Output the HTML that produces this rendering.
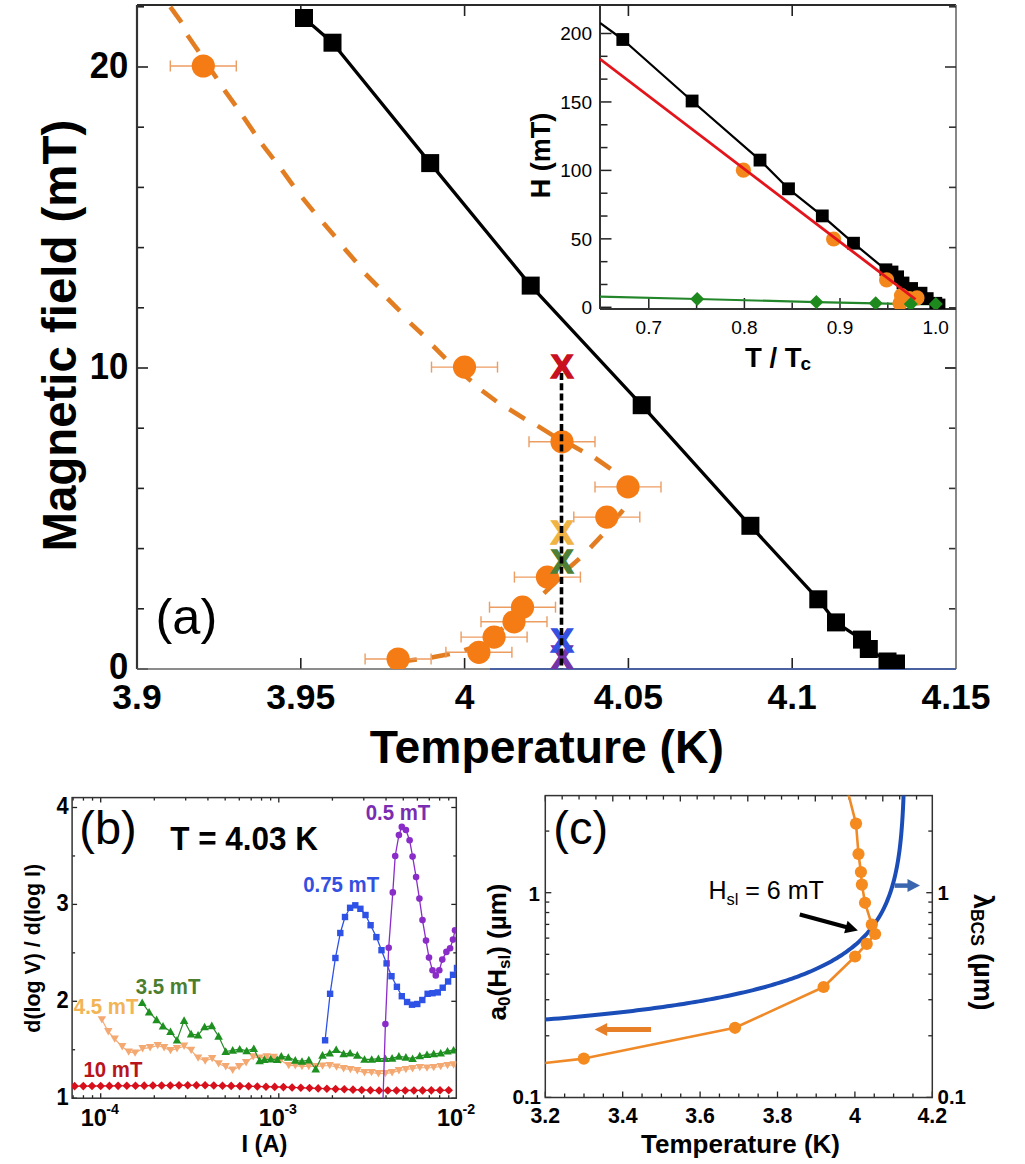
<!DOCTYPE html><html><head><meta charset="utf-8"><style>html,body{margin:0;padding:0;background:#fff;}</style></head><body><svg width="1025" height="1164" viewBox="0 0 1025 1164" style="display:block">
<rect width="1025" height="1164" fill="#fff"/>
<defs><clipPath id="ca"><rect x="137" y="5" width="819" height="664"/></clipPath><clipPath id="ci"><rect x="600" y="5" width="356" height="304"/></clipPath><clipPath id="cb"><rect x="72" y="797.6" width="384.3" height="300.6"/></clipPath><clipPath id="cc"><rect x="545.3" y="795.6" width="387" height="301.9"/></clipPath></defs>
<line x1="137.00" y1="669.00" x2="148.00" y2="669.00" stroke="#222" stroke-width="1.6" />
<line x1="956.00" y1="669.00" x2="945.00" y2="669.00" stroke="#333" stroke-width="1.6" />
<line x1="137.00" y1="608.80" x2="144.00" y2="608.80" stroke="#222" stroke-width="1.6" />
<line x1="956.00" y1="608.80" x2="949.00" y2="608.80" stroke="#333" stroke-width="1.6" />
<line x1="137.00" y1="548.60" x2="144.00" y2="548.60" stroke="#222" stroke-width="1.6" />
<line x1="956.00" y1="548.60" x2="949.00" y2="548.60" stroke="#333" stroke-width="1.6" />
<line x1="137.00" y1="488.40" x2="144.00" y2="488.40" stroke="#222" stroke-width="1.6" />
<line x1="956.00" y1="488.40" x2="949.00" y2="488.40" stroke="#333" stroke-width="1.6" />
<line x1="137.00" y1="428.20" x2="144.00" y2="428.20" stroke="#222" stroke-width="1.6" />
<line x1="956.00" y1="428.20" x2="949.00" y2="428.20" stroke="#333" stroke-width="1.6" />
<line x1="137.00" y1="368.00" x2="148.00" y2="368.00" stroke="#222" stroke-width="1.6" />
<line x1="956.00" y1="368.00" x2="945.00" y2="368.00" stroke="#333" stroke-width="1.6" />
<line x1="137.00" y1="307.80" x2="144.00" y2="307.80" stroke="#222" stroke-width="1.6" />
<line x1="956.00" y1="307.80" x2="949.00" y2="307.80" stroke="#333" stroke-width="1.6" />
<line x1="137.00" y1="247.60" x2="144.00" y2="247.60" stroke="#222" stroke-width="1.6" />
<line x1="956.00" y1="247.60" x2="949.00" y2="247.60" stroke="#333" stroke-width="1.6" />
<line x1="137.00" y1="187.40" x2="144.00" y2="187.40" stroke="#222" stroke-width="1.6" />
<line x1="956.00" y1="187.40" x2="949.00" y2="187.40" stroke="#333" stroke-width="1.6" />
<line x1="137.00" y1="127.20" x2="144.00" y2="127.20" stroke="#222" stroke-width="1.6" />
<line x1="956.00" y1="127.20" x2="949.00" y2="127.20" stroke="#333" stroke-width="1.6" />
<line x1="137.00" y1="67.00" x2="148.00" y2="67.00" stroke="#222" stroke-width="1.6" />
<line x1="956.00" y1="67.00" x2="945.00" y2="67.00" stroke="#333" stroke-width="1.6" />
<line x1="137.00" y1="6.80" x2="144.00" y2="6.80" stroke="#222" stroke-width="1.6" />
<line x1="956.00" y1="6.80" x2="949.00" y2="6.80" stroke="#333" stroke-width="1.6" />
<line x1="300.80" y1="669.00" x2="300.80" y2="658.00" stroke="#222" stroke-width="1.6" />
<line x1="300.80" y1="5.00" x2="300.80" y2="16.00" stroke="#222" stroke-width="1.6" />
<line x1="464.60" y1="669.00" x2="464.60" y2="658.00" stroke="#222" stroke-width="1.6" />
<line x1="464.60" y1="5.00" x2="464.60" y2="16.00" stroke="#222" stroke-width="1.6" />
<line x1="628.40" y1="669.00" x2="628.40" y2="658.00" stroke="#222" stroke-width="1.6" />
<line x1="628.40" y1="5.00" x2="628.40" y2="16.00" stroke="#222" stroke-width="1.6" />
<line x1="792.20" y1="669.00" x2="792.20" y2="658.00" stroke="#222" stroke-width="1.6" />
<line x1="792.20" y1="5.00" x2="792.20" y2="16.00" stroke="#222" stroke-width="1.6" />
<line x1="137.00" y1="5.00" x2="956.00" y2="5.00" stroke="#2a2a2a" stroke-width="2.2" />
<line x1="137.00" y1="5.00" x2="137.00" y2="669.00" stroke="#333" stroke-width="2.2" />
<line x1="956.00" y1="5.00" x2="956.00" y2="669.00" stroke="#7a7a7a" stroke-width="1.8" />
<line x1="137.00" y1="669.00" x2="956.00" y2="669.00" stroke="#666" stroke-width="1.6" />
<line x1="490.00" y1="669.00" x2="956.00" y2="669.00" stroke="#4a62a0" stroke-width="2.0" />
<text transform="translate(128.3,679) scale(0.95,1)" x="0" y="0" font-family="Liberation Sans" font-size="36.5" font-weight="bold" text-anchor="end">0</text>
<text transform="translate(128.3,379.3) scale(0.95,1)" x="0" y="0" font-family="Liberation Sans" font-size="36.5" font-weight="bold" text-anchor="end">10</text>
<text transform="translate(128.3,78.2) scale(0.95,1)" x="0" y="0" font-family="Liberation Sans" font-size="36.5" font-weight="bold" text-anchor="end">20</text>
<text x="137.00" y="709.00" font-family="Liberation Sans" font-size="35.5" font-weight="bold" fill="#000" text-anchor="middle" >3.9</text>
<text x="300.80" y="709.00" font-family="Liberation Sans" font-size="35.5" font-weight="bold" fill="#000" text-anchor="middle" >3.95</text>
<text x="464.60" y="709.00" font-family="Liberation Sans" font-size="35.5" font-weight="bold" fill="#000" text-anchor="middle" >4</text>
<text x="628.40" y="709.00" font-family="Liberation Sans" font-size="35.5" font-weight="bold" fill="#000" text-anchor="middle" >4.05</text>
<text x="792.20" y="709.00" font-family="Liberation Sans" font-size="35.5" font-weight="bold" fill="#000" text-anchor="middle" >4.1</text>
<text x="956.00" y="709.00" font-family="Liberation Sans" font-size="35.5" font-weight="bold" fill="#000" text-anchor="middle" >4.15</text>
<text x="369.70" y="763.30" font-family="Liberation Sans" font-size="46.3" font-weight="bold" fill="#000" text-anchor="start" >Temperature (K)</text>
<text transform="translate(75.7,548.3) rotate(-90)" x="-3.3" y="0" font-family="Liberation Sans" font-size="47.4" font-weight="bold">Magnetic field (mT)</text>
<text x="155.50" y="634.00" font-family="Liberation Sans" font-size="50.5" font-weight="normal" fill="#000" text-anchor="start" >(a)</text>
<g clip-path="url(#ca)">
<polyline points="304.00,18.00 332.50,42.70 430.20,163.10 530.70,285.60 641.70,405.20 750.40,525.80 818.30,599.30 836.00,622.40 862.00,639.60 868.80,649.00 887.50,661.50 896.00,663.50" fill="none" stroke="#000" stroke-width="3.3" stroke-linejoin="round" />
<rect x="295.00" y="9.00" width="18" height="18" fill="#000"/>
<rect x="323.50" y="33.70" width="18" height="18" fill="#000"/>
<rect x="421.20" y="154.10" width="18" height="18" fill="#000"/>
<rect x="521.70" y="276.60" width="18" height="18" fill="#000"/>
<rect x="632.70" y="396.20" width="18" height="18" fill="#000"/>
<rect x="741.40" y="516.80" width="18" height="18" fill="#000"/>
<rect x="809.30" y="590.30" width="18" height="18" fill="#000"/>
<rect x="827.00" y="613.40" width="18" height="18" fill="#000"/>
<rect x="853.00" y="630.60" width="18" height="18" fill="#000"/>
<rect x="859.80" y="640.00" width="18" height="18" fill="#000"/>
<rect x="878.50" y="652.50" width="18" height="18" fill="#000"/>
<rect x="887.00" y="654.50" width="18" height="18" fill="#000"/>
<line x1="170.30" y1="6.90" x2="181.50" y2="22.30" stroke="#E27D22" stroke-width="4.6" />
<line x1="187.50" y1="35.20" x2="198.70" y2="51.50" stroke="#E27D22" stroke-width="4.6" />
<line x1="205.50" y1="61.90" x2="216.70" y2="78.20" stroke="#E27D22" stroke-width="4.6" />
<line x1="224.40" y1="90.20" x2="235.60" y2="105.70" stroke="#E27D22" stroke-width="4.6" />
<line x1="243.30" y1="116.80" x2="254.50" y2="133.20" stroke="#E27D22" stroke-width="4.6" />
<line x1="262.20" y1="144.30" x2="273.40" y2="158.90" stroke="#E27D22" stroke-width="4.6" />
<line x1="282.00" y1="170.10" x2="293.20" y2="185.60" stroke="#E27D22" stroke-width="4.6" />
<line x1="302.30" y1="197.60" x2="313.70" y2="211.60" stroke="#E27D22" stroke-width="4.6" />
<line x1="323.40" y1="223.00" x2="334.80" y2="236.20" stroke="#E27D22" stroke-width="4.6" />
<line x1="344.40" y1="248.50" x2="355.90" y2="261.70" stroke="#E27D22" stroke-width="4.6" />
<line x1="365.50" y1="274.00" x2="377.80" y2="286.30" stroke="#E27D22" stroke-width="4.6" />
<line x1="387.50" y1="298.50" x2="399.80" y2="310.80" stroke="#E27D22" stroke-width="4.6" />
<line x1="410.30" y1="323.10" x2="422.60" y2="334.50" stroke="#E27D22" stroke-width="4.6" />
<line x1="433.10" y1="346.00" x2="445.40" y2="358.30" stroke="#E27D22" stroke-width="4.6" />
<line x1="457.00" y1="369.00" x2="471.20" y2="381.00" stroke="#E27D22" stroke-width="4.6" />
<line x1="482.00" y1="390.70" x2="496.60" y2="401.50" stroke="#E27D22" stroke-width="4.6" />
<line x1="509.30" y1="409.30" x2="524.90" y2="419.00" stroke="#E27D22" stroke-width="4.6" />
<line x1="537.60" y1="425.90" x2="553.20" y2="435.60" stroke="#E27D22" stroke-width="4.6" />
<line x1="566.00" y1="442.00" x2="582.40" y2="451.20" stroke="#E27D22" stroke-width="4.6" />
<line x1="595.10" y1="458.00" x2="610.70" y2="468.80" stroke="#E27D22" stroke-width="4.6" />
<line x1="398.00" y1="662.00" x2="416.80" y2="659.50" stroke="#E27D22" stroke-width="4.6" />
<line x1="431.50" y1="657.60" x2="449.80" y2="653.90" stroke="#E27D22" stroke-width="4.6" />
<line x1="464.40" y1="650.20" x2="481.00" y2="645.00" stroke="#E27D22" stroke-width="4.6" />
<line x1="490.00" y1="638.00" x2="503.00" y2="628.00" stroke="#E27D22" stroke-width="4.6" />
<line x1="513.00" y1="620.00" x2="527.00" y2="608.00" stroke="#E27D22" stroke-width="4.6" />
<line x1="543.90" y1="593.40" x2="559.60" y2="578.40" stroke="#E27D22" stroke-width="4.6" />
<line x1="566.50" y1="570.00" x2="579.40" y2="558.60" stroke="#E27D22" stroke-width="4.6" />
<line x1="590.40" y1="547.60" x2="602.00" y2="535.30" stroke="#E27D22" stroke-width="4.6" />
<line x1="609.00" y1="527.00" x2="623.10" y2="510.00" stroke="#E27D22" stroke-width="4.6" />
<line x1="170.30" y1="66.00" x2="236.30" y2="66.00" stroke="#EC9D62" stroke-width="1.4" />
<line x1="170.30" y1="60.50" x2="170.30" y2="71.50" stroke="#EC9D62" stroke-width="1.4" />
<line x1="236.30" y1="60.50" x2="236.30" y2="71.50" stroke="#EC9D62" stroke-width="1.4" />
<line x1="431.50" y1="367.10" x2="497.50" y2="367.10" stroke="#EC9D62" stroke-width="1.4" />
<line x1="431.50" y1="361.60" x2="431.50" y2="372.60" stroke="#EC9D62" stroke-width="1.4" />
<line x1="497.50" y1="361.60" x2="497.50" y2="372.60" stroke="#EC9D62" stroke-width="1.4" />
<line x1="529.00" y1="441.80" x2="595.00" y2="441.80" stroke="#EC9D62" stroke-width="1.4" />
<line x1="529.00" y1="436.30" x2="529.00" y2="447.30" stroke="#EC9D62" stroke-width="1.4" />
<line x1="595.00" y1="436.30" x2="595.00" y2="447.30" stroke="#EC9D62" stroke-width="1.4" />
<line x1="595.00" y1="486.90" x2="661.00" y2="486.90" stroke="#EC9D62" stroke-width="1.4" />
<line x1="595.00" y1="481.40" x2="595.00" y2="492.40" stroke="#EC9D62" stroke-width="1.4" />
<line x1="661.00" y1="481.40" x2="661.00" y2="492.40" stroke="#EC9D62" stroke-width="1.4" />
<line x1="573.80" y1="517.10" x2="639.80" y2="517.10" stroke="#EC9D62" stroke-width="1.4" />
<line x1="573.80" y1="511.60" x2="573.80" y2="522.60" stroke="#EC9D62" stroke-width="1.4" />
<line x1="639.80" y1="511.60" x2="639.80" y2="522.60" stroke="#EC9D62" stroke-width="1.4" />
<line x1="514.40" y1="577.10" x2="580.40" y2="577.10" stroke="#EC9D62" stroke-width="1.4" />
<line x1="514.40" y1="571.60" x2="514.40" y2="582.60" stroke="#EC9D62" stroke-width="1.4" />
<line x1="580.40" y1="571.60" x2="580.40" y2="582.60" stroke="#EC9D62" stroke-width="1.4" />
<line x1="489.50" y1="607.20" x2="555.50" y2="607.20" stroke="#EC9D62" stroke-width="1.4" />
<line x1="489.50" y1="601.70" x2="489.50" y2="612.70" stroke="#EC9D62" stroke-width="1.4" />
<line x1="555.50" y1="601.70" x2="555.50" y2="612.70" stroke="#EC9D62" stroke-width="1.4" />
<line x1="481.00" y1="621.80" x2="547.00" y2="621.80" stroke="#EC9D62" stroke-width="1.4" />
<line x1="481.00" y1="616.30" x2="481.00" y2="627.30" stroke="#EC9D62" stroke-width="1.4" />
<line x1="547.00" y1="616.30" x2="547.00" y2="627.30" stroke="#EC9D62" stroke-width="1.4" />
<line x1="461.10" y1="637.10" x2="527.10" y2="637.10" stroke="#EC9D62" stroke-width="1.4" />
<line x1="461.10" y1="631.60" x2="461.10" y2="642.60" stroke="#EC9D62" stroke-width="1.4" />
<line x1="527.10" y1="631.60" x2="527.10" y2="642.60" stroke="#EC9D62" stroke-width="1.4" />
<line x1="445.90" y1="652.30" x2="511.90" y2="652.30" stroke="#EC9D62" stroke-width="1.4" />
<line x1="445.90" y1="646.80" x2="445.90" y2="657.80" stroke="#EC9D62" stroke-width="1.4" />
<line x1="511.90" y1="646.80" x2="511.90" y2="657.80" stroke="#EC9D62" stroke-width="1.4" />
<line x1="365.10" y1="659.00" x2="431.10" y2="659.00" stroke="#EC9D62" stroke-width="1.4" />
<line x1="365.10" y1="653.50" x2="365.10" y2="664.50" stroke="#EC9D62" stroke-width="1.4" />
<line x1="431.10" y1="653.50" x2="431.10" y2="664.50" stroke="#EC9D62" stroke-width="1.4" />
<circle cx="203.30" cy="66.00" r="11.6" fill="#F57C14"/>
<circle cx="464.50" cy="367.10" r="11.6" fill="#F57C14"/>
<circle cx="562.00" cy="441.80" r="11.6" fill="#F57C14"/>
<circle cx="628.00" cy="486.90" r="11.6" fill="#F57C14"/>
<circle cx="606.80" cy="517.10" r="11.6" fill="#F57C14"/>
<circle cx="547.40" cy="577.10" r="11.6" fill="#F57C14"/>
<circle cx="522.50" cy="607.20" r="11.6" fill="#F57C14"/>
<circle cx="514.00" cy="621.80" r="11.6" fill="#F57C14"/>
<circle cx="494.10" cy="637.10" r="11.6" fill="#F57C14"/>
<circle cx="478.90" cy="652.30" r="11.6" fill="#F57C14"/>
<circle cx="398.10" cy="659.00" r="11.6" fill="#F57C14"/>
<text x="562.00" y="378.05" font-family="Liberation Sans" font-size="34" font-weight="bold" fill="#C8101E" text-anchor="middle" stroke="#C8101E" stroke-width="1.5" stroke-linejoin="miter">X</text>
<text x="562.00" y="543.65" font-family="Liberation Sans" font-size="34" font-weight="bold" fill="#F0B445" text-anchor="middle" stroke="#F0B445" stroke-width="1.5" stroke-linejoin="miter">X</text>
<text x="562.00" y="572.65" font-family="Liberation Sans" font-size="34" font-weight="bold" fill="#4E7F34" text-anchor="middle" stroke="#4E7F34" stroke-width="1.5" stroke-linejoin="miter">X</text>
<text x="562.00" y="668.75" font-family="Liberation Sans" font-size="34" font-weight="bold" fill="#7433A6" text-anchor="middle" stroke="#7433A6" stroke-width="1.5" stroke-linejoin="miter">X</text>
<text x="562.00" y="651.75" font-family="Liberation Sans" font-size="34" font-weight="bold" fill="#3550E0" text-anchor="middle" stroke="#3550E0" stroke-width="1.5" stroke-linejoin="miter">X</text>
<line x1="561.50" y1="373.00" x2="561.50" y2="669.00" stroke="#000" stroke-width="3.6" stroke-dasharray="7,3.2"/>
</g>
<rect x="600" y="6" width="355" height="303" fill="#fff"/>
<line x1="628.40" y1="5.00" x2="628.40" y2="16.00" stroke="#222" stroke-width="1.6" />
<line x1="792.20" y1="5.00" x2="792.20" y2="16.00" stroke="#222" stroke-width="1.6" />
<line x1="956.00" y1="368.00" x2="945.00" y2="368.00" stroke="#333" stroke-width="1.6" />
<line x1="956.00" y1="307.80" x2="949.00" y2="307.80" stroke="#333" stroke-width="1.6" />
<line x1="956.00" y1="247.60" x2="949.00" y2="247.60" stroke="#333" stroke-width="1.6" />
<line x1="956.00" y1="187.40" x2="949.00" y2="187.40" stroke="#333" stroke-width="1.6" />
<line x1="956.00" y1="127.20" x2="949.00" y2="127.20" stroke="#333" stroke-width="1.6" />
<line x1="956.00" y1="67.00" x2="945.00" y2="67.00" stroke="#333" stroke-width="1.6" />
<line x1="956.00" y1="6.80" x2="949.00" y2="6.80" stroke="#333" stroke-width="1.6" />
<line x1="600.00" y1="307.30" x2="611.50" y2="307.30" stroke="#222" stroke-width="1.5" />
<line x1="600.00" y1="284.48" x2="607.50" y2="284.48" stroke="#222" stroke-width="1.5" />
<line x1="600.00" y1="261.67" x2="607.50" y2="261.67" stroke="#222" stroke-width="1.5" />
<line x1="600.00" y1="238.85" x2="611.50" y2="238.85" stroke="#222" stroke-width="1.5" />
<line x1="600.00" y1="216.03" x2="607.50" y2="216.03" stroke="#222" stroke-width="1.5" />
<line x1="600.00" y1="193.22" x2="607.50" y2="193.22" stroke="#222" stroke-width="1.5" />
<line x1="600.00" y1="170.40" x2="611.50" y2="170.40" stroke="#222" stroke-width="1.5" />
<line x1="600.00" y1="147.58" x2="607.50" y2="147.58" stroke="#222" stroke-width="1.5" />
<line x1="600.00" y1="124.77" x2="607.50" y2="124.77" stroke="#222" stroke-width="1.5" />
<line x1="600.00" y1="101.95" x2="611.50" y2="101.95" stroke="#222" stroke-width="1.5" />
<line x1="600.00" y1="79.13" x2="607.50" y2="79.13" stroke="#222" stroke-width="1.5" />
<line x1="600.00" y1="56.32" x2="607.50" y2="56.32" stroke="#222" stroke-width="1.5" />
<line x1="600.00" y1="33.50" x2="611.50" y2="33.50" stroke="#222" stroke-width="1.5" />
<line x1="648.80" y1="309.00" x2="648.80" y2="298.00" stroke="#222" stroke-width="1.5" />
<line x1="696.60" y1="309.00" x2="696.60" y2="302.50" stroke="#222" stroke-width="1.5" />
<line x1="744.40" y1="309.00" x2="744.40" y2="298.00" stroke="#222" stroke-width="1.5" />
<line x1="792.20" y1="309.00" x2="792.20" y2="302.50" stroke="#222" stroke-width="1.5" />
<line x1="840.00" y1="309.00" x2="840.00" y2="298.00" stroke="#222" stroke-width="1.5" />
<line x1="887.80" y1="309.00" x2="887.80" y2="302.50" stroke="#222" stroke-width="1.5" />
<line x1="935.60" y1="309.00" x2="935.60" y2="298.00" stroke="#222" stroke-width="1.5" />
<line x1="600.00" y1="5.00" x2="600.00" y2="309.00" stroke="#333" stroke-width="2" />
<line x1="600.00" y1="309.00" x2="956.00" y2="309.00" stroke="#333" stroke-width="1.8" />
<text x="592.00" y="314.10" font-family="Liberation Sans" font-size="19" font-weight="normal" fill="#000" text-anchor="end" >0</text>
<text x="592.00" y="245.65" font-family="Liberation Sans" font-size="19" font-weight="normal" fill="#000" text-anchor="end" >50</text>
<text x="592.00" y="177.20" font-family="Liberation Sans" font-size="19" font-weight="normal" fill="#000" text-anchor="end" >100</text>
<text x="592.00" y="108.75" font-family="Liberation Sans" font-size="19" font-weight="normal" fill="#000" text-anchor="end" >150</text>
<text x="592.00" y="40.30" font-family="Liberation Sans" font-size="19" font-weight="normal" fill="#000" text-anchor="end" >200</text>
<text x="648.80" y="334.20" font-family="Liberation Sans" font-size="19" font-weight="normal" fill="#000" text-anchor="middle" >0.7</text>
<text x="744.40" y="334.20" font-family="Liberation Sans" font-size="19" font-weight="normal" fill="#000" text-anchor="middle" >0.8</text>
<text x="840.00" y="334.20" font-family="Liberation Sans" font-size="19" font-weight="normal" fill="#000" text-anchor="middle" >0.9</text>
<text x="935.60" y="334.20" font-family="Liberation Sans" font-size="19" font-weight="normal" fill="#000" text-anchor="middle" >1.0</text>
<text transform="translate(549.6,196.4) rotate(-90)" x="-1.9" y="0" font-family="Liberation Sans" font-size="27" font-weight="bold">H (mT)</text>
<text x="745.00" y="367.40" font-family="Liberation Sans" font-size="27.5" font-weight="bold" fill="#000" text-anchor="start" >T / T</text>
<text x="800.50" y="370.30" font-family="Liberation Sans" font-size="19" font-weight="bold" fill="#000" text-anchor="start" >c</text>
<g clip-path="url(#ci)">
<polyline points="600.00,296.70 697.20,299.00 816.40,302.10 875.70,303.30 910.80,304.10 935.80,304.10" fill="none" stroke="#23862A" stroke-width="2.2" stroke-linejoin="round" />
<polyline points="600.00,23.00 622.80,39.50 692.10,101.00 760.00,160.10 788.50,188.80 822.30,215.90 853.50,243.20 885.90,269.80 892.00,272.00 897.60,276.80 903.00,283.00 911.60,288.50 921.00,293.20 927.20,298.60 935.80,303.30 939.00,305.00" fill="none" stroke="#000" stroke-width="2.2" stroke-linejoin="round" />
<rect x="616.40" y="33.10" width="12.8" height="12.8" fill="#000"/>
<rect x="685.70" y="94.60" width="12.8" height="12.8" fill="#000"/>
<rect x="753.60" y="153.70" width="12.8" height="12.8" fill="#000"/>
<rect x="782.10" y="182.40" width="12.8" height="12.8" fill="#000"/>
<rect x="815.90" y="209.50" width="12.8" height="12.8" fill="#000"/>
<rect x="847.10" y="236.80" width="12.8" height="12.8" fill="#000"/>
<rect x="879.50" y="263.40" width="12.8" height="12.8" fill="#000"/>
<rect x="885.60" y="265.60" width="12.8" height="12.8" fill="#000"/>
<rect x="891.20" y="270.40" width="12.8" height="12.8" fill="#000"/>
<rect x="896.60" y="276.60" width="12.8" height="12.8" fill="#000"/>
<rect x="905.20" y="282.10" width="12.8" height="12.8" fill="#000"/>
<rect x="914.60" y="286.80" width="12.8" height="12.8" fill="#000"/>
<rect x="920.80" y="292.20" width="12.8" height="12.8" fill="#000"/>
<rect x="929.40" y="296.90" width="12.8" height="12.8" fill="#000"/>
<rect x="932.60" y="298.60" width="12.8" height="12.8" fill="#000"/>
<circle cx="743.4" cy="170.2" r="7.6" fill="#F4871C"/>
<circle cx="833.6" cy="239" r="7.6" fill="#F4871C"/>
<circle cx="886.6" cy="279.9" r="7.6" fill="#F4871C"/>
<circle cx="900" cy="303.3" r="7.6" fill="#F4871C"/>
<circle cx="901.5" cy="295.5" r="7.6" fill="#F4871C"/>
<circle cx="909.3" cy="298.6" r="7.6" fill="#F4871C"/>
<circle cx="917" cy="297.9" r="7.6" fill="#F4871C"/>
<line x1="600.00" y1="59.00" x2="915.50" y2="299.40" stroke="#E3141B" stroke-width="2.8" />
<path d="M697.2,292 L704.2,299 L697.2,306 L690.2,299 Z" fill="#1E8A1E"/>
<path d="M816.4,295.1 L823.4,302.1 L816.4,309.1 L809.4,302.1 Z" fill="#1E8A1E"/>
<path d="M875.7,296.3 L882.7,303.3 L875.7,310.3 L868.7,303.3 Z" fill="#1E8A1E"/>
<path d="M910.8,297.1 L917.8,304.1 L910.8,311.1 L903.8,304.1 Z" fill="#1E8A1E"/>
<path d="M935.8,297.1 L942.8,304.1 L935.8,311.1 L928.8,304.1 Z" fill="#1E8A1E"/>
</g>
<line x1="72.10" y1="1098.20" x2="77.10" y2="1098.20" stroke="#222" stroke-width="1.3" />
<line x1="456.30" y1="1098.20" x2="451.30" y2="1098.20" stroke="#222" stroke-width="1.3" />
<line x1="72.10" y1="1049.75" x2="75.10" y2="1049.75" stroke="#222" stroke-width="1.3" />
<line x1="456.30" y1="1049.75" x2="453.30" y2="1049.75" stroke="#222" stroke-width="1.3" />
<line x1="72.10" y1="1001.30" x2="77.10" y2="1001.30" stroke="#222" stroke-width="1.3" />
<line x1="456.30" y1="1001.30" x2="451.30" y2="1001.30" stroke="#222" stroke-width="1.3" />
<line x1="72.10" y1="952.85" x2="75.10" y2="952.85" stroke="#222" stroke-width="1.3" />
<line x1="456.30" y1="952.85" x2="453.30" y2="952.85" stroke="#222" stroke-width="1.3" />
<line x1="72.10" y1="904.40" x2="77.10" y2="904.40" stroke="#222" stroke-width="1.3" />
<line x1="456.30" y1="904.40" x2="451.30" y2="904.40" stroke="#222" stroke-width="1.3" />
<line x1="72.10" y1="855.95" x2="75.10" y2="855.95" stroke="#222" stroke-width="1.3" />
<line x1="456.30" y1="855.95" x2="453.30" y2="855.95" stroke="#222" stroke-width="1.3" />
<line x1="72.10" y1="807.50" x2="77.10" y2="807.50" stroke="#222" stroke-width="1.3" />
<line x1="456.30" y1="807.50" x2="451.30" y2="807.50" stroke="#222" stroke-width="1.3" />
<line x1="73.11" y1="1098.20" x2="73.11" y2="1095.20" stroke="#222" stroke-width="1.3" />
<line x1="73.11" y1="797.60" x2="73.11" y2="800.60" stroke="#222" stroke-width="1.3" />
<line x1="83.44" y1="1098.20" x2="83.44" y2="1095.20" stroke="#222" stroke-width="1.3" />
<line x1="83.44" y1="797.60" x2="83.44" y2="800.60" stroke="#222" stroke-width="1.3" />
<line x1="92.55" y1="1098.20" x2="92.55" y2="1095.20" stroke="#222" stroke-width="1.3" />
<line x1="92.55" y1="797.60" x2="92.55" y2="800.60" stroke="#222" stroke-width="1.3" />
<line x1="100.70" y1="1098.20" x2="100.70" y2="1093.20" stroke="#222" stroke-width="1.3" />
<line x1="100.70" y1="797.60" x2="100.70" y2="802.60" stroke="#222" stroke-width="1.3" />
<line x1="154.31" y1="1098.20" x2="154.31" y2="1095.20" stroke="#222" stroke-width="1.3" />
<line x1="154.31" y1="797.60" x2="154.31" y2="800.60" stroke="#222" stroke-width="1.3" />
<line x1="185.68" y1="1098.20" x2="185.68" y2="1095.20" stroke="#222" stroke-width="1.3" />
<line x1="185.68" y1="797.60" x2="185.68" y2="800.60" stroke="#222" stroke-width="1.3" />
<line x1="207.93" y1="1098.20" x2="207.93" y2="1095.20" stroke="#222" stroke-width="1.3" />
<line x1="207.93" y1="797.60" x2="207.93" y2="800.60" stroke="#222" stroke-width="1.3" />
<line x1="225.19" y1="1098.20" x2="225.19" y2="1095.20" stroke="#222" stroke-width="1.3" />
<line x1="225.19" y1="797.60" x2="225.19" y2="800.60" stroke="#222" stroke-width="1.3" />
<line x1="239.29" y1="1098.20" x2="239.29" y2="1095.20" stroke="#222" stroke-width="1.3" />
<line x1="239.29" y1="797.60" x2="239.29" y2="800.60" stroke="#222" stroke-width="1.3" />
<line x1="251.21" y1="1098.20" x2="251.21" y2="1095.20" stroke="#222" stroke-width="1.3" />
<line x1="251.21" y1="797.60" x2="251.21" y2="800.60" stroke="#222" stroke-width="1.3" />
<line x1="261.54" y1="1098.20" x2="261.54" y2="1095.20" stroke="#222" stroke-width="1.3" />
<line x1="261.54" y1="797.60" x2="261.54" y2="800.60" stroke="#222" stroke-width="1.3" />
<line x1="270.65" y1="1098.20" x2="270.65" y2="1095.20" stroke="#222" stroke-width="1.3" />
<line x1="270.65" y1="797.60" x2="270.65" y2="800.60" stroke="#222" stroke-width="1.3" />
<line x1="278.80" y1="1098.20" x2="278.80" y2="1093.20" stroke="#222" stroke-width="1.3" />
<line x1="278.80" y1="797.60" x2="278.80" y2="802.60" stroke="#222" stroke-width="1.3" />
<line x1="332.41" y1="1098.20" x2="332.41" y2="1095.20" stroke="#222" stroke-width="1.3" />
<line x1="332.41" y1="797.60" x2="332.41" y2="800.60" stroke="#222" stroke-width="1.3" />
<line x1="363.78" y1="1098.20" x2="363.78" y2="1095.20" stroke="#222" stroke-width="1.3" />
<line x1="363.78" y1="797.60" x2="363.78" y2="800.60" stroke="#222" stroke-width="1.3" />
<line x1="386.03" y1="1098.20" x2="386.03" y2="1095.20" stroke="#222" stroke-width="1.3" />
<line x1="386.03" y1="797.60" x2="386.03" y2="800.60" stroke="#222" stroke-width="1.3" />
<line x1="403.29" y1="1098.20" x2="403.29" y2="1095.20" stroke="#222" stroke-width="1.3" />
<line x1="403.29" y1="797.60" x2="403.29" y2="800.60" stroke="#222" stroke-width="1.3" />
<line x1="417.39" y1="1098.20" x2="417.39" y2="1095.20" stroke="#222" stroke-width="1.3" />
<line x1="417.39" y1="797.60" x2="417.39" y2="800.60" stroke="#222" stroke-width="1.3" />
<line x1="429.31" y1="1098.20" x2="429.31" y2="1095.20" stroke="#222" stroke-width="1.3" />
<line x1="429.31" y1="797.60" x2="429.31" y2="800.60" stroke="#222" stroke-width="1.3" />
<line x1="439.64" y1="1098.20" x2="439.64" y2="1095.20" stroke="#222" stroke-width="1.3" />
<line x1="439.64" y1="797.60" x2="439.64" y2="800.60" stroke="#222" stroke-width="1.3" />
<line x1="448.75" y1="1098.20" x2="448.75" y2="1095.20" stroke="#222" stroke-width="1.3" />
<line x1="448.75" y1="797.60" x2="448.75" y2="800.60" stroke="#222" stroke-width="1.3" />
<rect x="72.1" y="797.6" width="384.20000000000005" height="300.6" fill="none" stroke="#333" stroke-width="1.5"/>
<text transform="translate(68.6,1105.00) scale(0.9,1)" x="0" y="0" font-family="Liberation Sans" font-size="24.3" font-weight="bold" text-anchor="end">1</text>
<text transform="translate(68.6,1008.10) scale(0.9,1)" x="0" y="0" font-family="Liberation Sans" font-size="24.3" font-weight="bold" text-anchor="end">2</text>
<text transform="translate(68.6,911.20) scale(0.9,1)" x="0" y="0" font-family="Liberation Sans" font-size="24.3" font-weight="bold" text-anchor="end">3</text>
<text transform="translate(68.6,814.30) scale(0.9,1)" x="0" y="0" font-family="Liberation Sans" font-size="24.3" font-weight="bold" text-anchor="end">4</text>
<text x="80.70" y="1125.8" font-family="Liberation Sans" font-size="23.5" font-weight="bold">10</text>
<text x="106.30" y="1114.4" font-family="Liberation Sans" font-size="14.2" font-weight="bold">-4</text>
<text x="258.80" y="1125.8" font-family="Liberation Sans" font-size="23.5" font-weight="bold">10</text>
<text x="284.40" y="1114.4" font-family="Liberation Sans" font-size="14.2" font-weight="bold">-3</text>
<text x="436.90" y="1125.8" font-family="Liberation Sans" font-size="23.5" font-weight="bold">10</text>
<text x="462.50" y="1114.4" font-family="Liberation Sans" font-size="14.2" font-weight="bold">-2</text>
<text x="241.40" y="1151.80" font-family="Liberation Sans" font-size="23.7" font-weight="bold" fill="#000" text-anchor="start" >I (A)</text>
<text transform="translate(39.5,1031.8) rotate(-90)" x="-0.9" y="0" font-family="Liberation Sans" font-size="21.4" font-weight="bold">d(log V) / d(log I)</text>
<text x="79.30" y="844.00" font-family="Liberation Sans" font-size="47" font-weight="normal" fill="#000" text-anchor="start" >(b)</text>
<text transform="translate(170.2,849.5) scale(1,1.065)" x="0" y="0" font-family="Liberation Sans" font-size="31.5" font-weight="bold" fill="#000">T = 4.03 K</text>
<text transform="translate(365.7,819.7) scale(1,1.05)" x="0" y="0" font-family="Liberation Sans" font-size="20.4" font-weight="bold" fill="#7A2DB0">0.5 mT</text>
<text transform="translate(303.2,892.4) scale(1,1.05)" x="0" y="0" font-family="Liberation Sans" font-size="20.4" font-weight="bold" fill="#3550E0">0.75 mT</text>
<text transform="translate(135.8,994) scale(1,1.05)" x="0" y="0" font-family="Liberation Sans" font-size="20.4" font-weight="bold" fill="#4B7E2E">3.5 mT</text>
<text transform="translate(73.8,1014.4) scale(1,1.05)" x="0" y="0" font-family="Liberation Sans" font-size="20.4" font-weight="bold" fill="#F2B455">4.5 mT</text>
<text transform="translate(83.5,1076.6) scale(1,1.05)" x="0" y="0" font-family="Liberation Sans" font-size="20.4" font-weight="bold" fill="#B8141C">10 mT</text>
<g clip-path="url(#cb)">
<polyline points="74.60,1086.16 83.30,1086.10 92.00,1086.03 100.70,1085.96 109.40,1085.90 118.10,1085.83 126.80,1085.76 135.50,1085.70 144.20,1085.63 152.90,1085.56 161.60,1085.50 170.30,1085.43 179.00,1085.36 187.70,1085.29 196.40,1085.23 205.10,1085.31 213.80,1085.51 222.50,1085.71 231.20,1085.90 239.90,1086.10 248.60,1086.29 257.30,1086.49 266.00,1086.68 274.70,1086.88 283.40,1087.12 292.10,1087.44 300.80,1087.75 309.50,1088.06 318.20,1088.38 326.90,1088.69 335.60,1089.00 344.30,1089.31 353.00,1089.63 361.70,1089.94 370.40,1090.25 379.10,1090.57 387.80,1090.56 396.50,1090.52 405.20,1090.47 413.90,1090.43 422.60,1090.39 431.30,1090.34 440.00,1090.30 448.70,1090.26" fill="none" stroke="#D0101C" stroke-width="1.2" stroke-linejoin="round" />
<path d="M74.60,1081.86 L78.90,1086.16 L74.60,1090.46 L70.30,1086.16 Z" fill="#D8101C"/>
<path d="M83.30,1081.80 L87.60,1086.10 L83.30,1090.40 L79.00,1086.10 Z" fill="#D8101C"/>
<path d="M92.00,1081.73 L96.30,1086.03 L92.00,1090.33 L87.70,1086.03 Z" fill="#D8101C"/>
<path d="M100.70,1081.66 L105.00,1085.96 L100.70,1090.26 L96.40,1085.96 Z" fill="#D8101C"/>
<path d="M109.40,1081.60 L113.70,1085.90 L109.40,1090.20 L105.10,1085.90 Z" fill="#D8101C"/>
<path d="M118.10,1081.53 L122.40,1085.83 L118.10,1090.13 L113.80,1085.83 Z" fill="#D8101C"/>
<path d="M126.80,1081.46 L131.10,1085.76 L126.80,1090.06 L122.50,1085.76 Z" fill="#D8101C"/>
<path d="M135.50,1081.40 L139.80,1085.70 L135.50,1090.00 L131.20,1085.70 Z" fill="#D8101C"/>
<path d="M144.20,1081.33 L148.50,1085.63 L144.20,1089.93 L139.90,1085.63 Z" fill="#D8101C"/>
<path d="M152.90,1081.26 L157.20,1085.56 L152.90,1089.86 L148.60,1085.56 Z" fill="#D8101C"/>
<path d="M161.60,1081.20 L165.90,1085.50 L161.60,1089.80 L157.30,1085.50 Z" fill="#D8101C"/>
<path d="M170.30,1081.13 L174.60,1085.43 L170.30,1089.73 L166.00,1085.43 Z" fill="#D8101C"/>
<path d="M179.00,1081.06 L183.30,1085.36 L179.00,1089.66 L174.70,1085.36 Z" fill="#D8101C"/>
<path d="M187.70,1080.99 L192.00,1085.29 L187.70,1089.59 L183.40,1085.29 Z" fill="#D8101C"/>
<path d="M196.40,1080.93 L200.70,1085.23 L196.40,1089.53 L192.10,1085.23 Z" fill="#D8101C"/>
<path d="M205.10,1081.01 L209.40,1085.31 L205.10,1089.61 L200.80,1085.31 Z" fill="#D8101C"/>
<path d="M213.80,1081.21 L218.10,1085.51 L213.80,1089.81 L209.50,1085.51 Z" fill="#D8101C"/>
<path d="M222.50,1081.41 L226.80,1085.71 L222.50,1090.01 L218.20,1085.71 Z" fill="#D8101C"/>
<path d="M231.20,1081.60 L235.50,1085.90 L231.20,1090.20 L226.90,1085.90 Z" fill="#D8101C"/>
<path d="M239.90,1081.80 L244.20,1086.10 L239.90,1090.40 L235.60,1086.10 Z" fill="#D8101C"/>
<path d="M248.60,1081.99 L252.90,1086.29 L248.60,1090.59 L244.30,1086.29 Z" fill="#D8101C"/>
<path d="M257.30,1082.19 L261.60,1086.49 L257.30,1090.79 L253.00,1086.49 Z" fill="#D8101C"/>
<path d="M266.00,1082.38 L270.30,1086.68 L266.00,1090.98 L261.70,1086.68 Z" fill="#D8101C"/>
<path d="M274.70,1082.58 L279.00,1086.88 L274.70,1091.18 L270.40,1086.88 Z" fill="#D8101C"/>
<path d="M283.40,1082.82 L287.70,1087.12 L283.40,1091.42 L279.10,1087.12 Z" fill="#D8101C"/>
<path d="M292.10,1083.14 L296.40,1087.44 L292.10,1091.74 L287.80,1087.44 Z" fill="#D8101C"/>
<path d="M300.80,1083.45 L305.10,1087.75 L300.80,1092.05 L296.50,1087.75 Z" fill="#D8101C"/>
<path d="M309.50,1083.76 L313.80,1088.06 L309.50,1092.36 L305.20,1088.06 Z" fill="#D8101C"/>
<path d="M318.20,1084.08 L322.50,1088.38 L318.20,1092.68 L313.90,1088.38 Z" fill="#D8101C"/>
<path d="M326.90,1084.39 L331.20,1088.69 L326.90,1092.99 L322.60,1088.69 Z" fill="#D8101C"/>
<path d="M335.60,1084.70 L339.90,1089.00 L335.60,1093.30 L331.30,1089.00 Z" fill="#D8101C"/>
<path d="M344.30,1085.01 L348.60,1089.31 L344.30,1093.61 L340.00,1089.31 Z" fill="#D8101C"/>
<path d="M353.00,1085.33 L357.30,1089.63 L353.00,1093.93 L348.70,1089.63 Z" fill="#D8101C"/>
<path d="M361.70,1085.64 L366.00,1089.94 L361.70,1094.24 L357.40,1089.94 Z" fill="#D8101C"/>
<path d="M370.40,1085.95 L374.70,1090.25 L370.40,1094.55 L366.10,1090.25 Z" fill="#D8101C"/>
<path d="M379.10,1086.27 L383.40,1090.57 L379.10,1094.87 L374.80,1090.57 Z" fill="#D8101C"/>
<path d="M387.80,1086.26 L392.10,1090.56 L387.80,1094.86 L383.50,1090.56 Z" fill="#D8101C"/>
<path d="M396.50,1086.22 L400.80,1090.52 L396.50,1094.82 L392.20,1090.52 Z" fill="#D8101C"/>
<path d="M405.20,1086.17 L409.50,1090.47 L405.20,1094.77 L400.90,1090.47 Z" fill="#D8101C"/>
<path d="M413.90,1086.13 L418.20,1090.43 L413.90,1094.73 L409.60,1090.43 Z" fill="#D8101C"/>
<path d="M422.60,1086.09 L426.90,1090.39 L422.60,1094.69 L418.30,1090.39 Z" fill="#D8101C"/>
<path d="M431.30,1086.04 L435.60,1090.34 L431.30,1094.64 L427.00,1090.34 Z" fill="#D8101C"/>
<path d="M440.00,1086.00 L444.30,1090.30 L440.00,1094.60 L435.70,1090.30 Z" fill="#D8101C"/>
<path d="M448.70,1085.96 L453.00,1090.26 L448.70,1094.56 L444.40,1090.26 Z" fill="#D8101C"/>
<polyline points="101.90,1019.80 108.30,1031.60 114.70,1039.00 122.20,1046.60 128.70,1052.00 135.10,1053.00 142.60,1048.70 150.10,1047.70 157.70,1045.50 164.10,1047.70 170.50,1050.50 177.00,1048.70 184.10,1046.20 191.10,1050.30 198.10,1058.00 205.20,1060.90 212.20,1058.50 218.60,1063.80 225.70,1066.70 232.70,1070.20 239.10,1066.70 246.10,1062.60 253.20,1056.80 259.60,1058.00 266.60,1056.80 273.70,1057.40 280.70,1060.30 288.70,1065.50 295.30,1065.60 302.00,1066.50 308.80,1066.50 315.70,1066.50 322.50,1066.00 329.70,1065.50 336.50,1067.00 343.60,1068.60 350.40,1069.50 357.30,1070.60 364.50,1072.70 371.50,1072.50 378.40,1073.70 385.40,1073.50 392.10,1072.70 398.90,1070.60 405.90,1069.50 412.60,1068.60 419.80,1067.50 427.00,1068.00 433.70,1067.50 440.70,1066.50 447.50,1065.50 453.60,1064.90" fill="none" stroke="#F2AD78" stroke-width="1.2" stroke-linejoin="round" />
<path d="M97.70,1016.20 L106.10,1016.20 L101.90,1023.60 Z" fill="#F4A872"/>
<path d="M104.10,1028.00 L112.50,1028.00 L108.30,1035.40 Z" fill="#F4A872"/>
<path d="M110.50,1035.40 L118.90,1035.40 L114.70,1042.80 Z" fill="#F4A872"/>
<path d="M118.00,1043.00 L126.40,1043.00 L122.20,1050.40 Z" fill="#F4A872"/>
<path d="M124.50,1048.40 L132.90,1048.40 L128.70,1055.80 Z" fill="#F4A872"/>
<path d="M130.90,1049.40 L139.30,1049.40 L135.10,1056.80 Z" fill="#F4A872"/>
<path d="M138.40,1045.10 L146.80,1045.10 L142.60,1052.50 Z" fill="#F4A872"/>
<path d="M145.90,1044.10 L154.30,1044.10 L150.10,1051.50 Z" fill="#F4A872"/>
<path d="M153.50,1041.90 L161.90,1041.90 L157.70,1049.30 Z" fill="#F4A872"/>
<path d="M159.90,1044.10 L168.30,1044.10 L164.10,1051.50 Z" fill="#F4A872"/>
<path d="M166.30,1046.90 L174.70,1046.90 L170.50,1054.30 Z" fill="#F4A872"/>
<path d="M172.80,1045.10 L181.20,1045.10 L177.00,1052.50 Z" fill="#F4A872"/>
<path d="M179.90,1042.60 L188.30,1042.60 L184.10,1050.00 Z" fill="#F4A872"/>
<path d="M186.90,1046.70 L195.30,1046.70 L191.10,1054.10 Z" fill="#F4A872"/>
<path d="M193.90,1054.40 L202.30,1054.40 L198.10,1061.80 Z" fill="#F4A872"/>
<path d="M201.00,1057.30 L209.40,1057.30 L205.20,1064.70 Z" fill="#F4A872"/>
<path d="M208.00,1054.90 L216.40,1054.90 L212.20,1062.30 Z" fill="#F4A872"/>
<path d="M214.40,1060.20 L222.80,1060.20 L218.60,1067.60 Z" fill="#F4A872"/>
<path d="M221.50,1063.10 L229.90,1063.10 L225.70,1070.50 Z" fill="#F4A872"/>
<path d="M228.50,1066.60 L236.90,1066.60 L232.70,1074.00 Z" fill="#F4A872"/>
<path d="M234.90,1063.10 L243.30,1063.10 L239.10,1070.50 Z" fill="#F4A872"/>
<path d="M241.90,1059.00 L250.30,1059.00 L246.10,1066.40 Z" fill="#F4A872"/>
<path d="M249.00,1053.20 L257.40,1053.20 L253.20,1060.60 Z" fill="#F4A872"/>
<path d="M255.40,1054.40 L263.80,1054.40 L259.60,1061.80 Z" fill="#F4A872"/>
<path d="M262.40,1053.20 L270.80,1053.20 L266.60,1060.60 Z" fill="#F4A872"/>
<path d="M269.50,1053.80 L277.90,1053.80 L273.70,1061.20 Z" fill="#F4A872"/>
<path d="M276.50,1056.70 L284.90,1056.70 L280.70,1064.10 Z" fill="#F4A872"/>
<path d="M284.50,1061.90 L292.90,1061.90 L288.70,1069.30 Z" fill="#F4A872"/>
<path d="M291.10,1062.00 L299.50,1062.00 L295.30,1069.40 Z" fill="#F4A872"/>
<path d="M297.80,1062.90 L306.20,1062.90 L302.00,1070.30 Z" fill="#F4A872"/>
<path d="M304.60,1062.90 L313.00,1062.90 L308.80,1070.30 Z" fill="#F4A872"/>
<path d="M311.50,1062.90 L319.90,1062.90 L315.70,1070.30 Z" fill="#F4A872"/>
<path d="M318.30,1062.40 L326.70,1062.40 L322.50,1069.80 Z" fill="#F4A872"/>
<path d="M325.50,1061.90 L333.90,1061.90 L329.70,1069.30 Z" fill="#F4A872"/>
<path d="M332.30,1063.40 L340.70,1063.40 L336.50,1070.80 Z" fill="#F4A872"/>
<path d="M339.40,1065.00 L347.80,1065.00 L343.60,1072.40 Z" fill="#F4A872"/>
<path d="M346.20,1065.90 L354.60,1065.90 L350.40,1073.30 Z" fill="#F4A872"/>
<path d="M353.10,1067.00 L361.50,1067.00 L357.30,1074.40 Z" fill="#F4A872"/>
<path d="M360.30,1069.10 L368.70,1069.10 L364.50,1076.50 Z" fill="#F4A872"/>
<path d="M367.30,1068.90 L375.70,1068.90 L371.50,1076.30 Z" fill="#F4A872"/>
<path d="M374.20,1070.10 L382.60,1070.10 L378.40,1077.50 Z" fill="#F4A872"/>
<path d="M381.20,1069.90 L389.60,1069.90 L385.40,1077.30 Z" fill="#F4A872"/>
<path d="M387.90,1069.10 L396.30,1069.10 L392.10,1076.50 Z" fill="#F4A872"/>
<path d="M394.70,1067.00 L403.10,1067.00 L398.90,1074.40 Z" fill="#F4A872"/>
<path d="M401.70,1065.90 L410.10,1065.90 L405.90,1073.30 Z" fill="#F4A872"/>
<path d="M408.40,1065.00 L416.80,1065.00 L412.60,1072.40 Z" fill="#F4A872"/>
<path d="M415.60,1063.90 L424.00,1063.90 L419.80,1071.30 Z" fill="#F4A872"/>
<path d="M422.80,1064.40 L431.20,1064.40 L427.00,1071.80 Z" fill="#F4A872"/>
<path d="M429.50,1063.90 L437.90,1063.90 L433.70,1071.30 Z" fill="#F4A872"/>
<path d="M436.50,1062.90 L444.90,1062.90 L440.70,1070.30 Z" fill="#F4A872"/>
<path d="M443.30,1061.90 L451.70,1061.90 L447.50,1069.30 Z" fill="#F4A872"/>
<path d="M449.40,1061.30 L457.80,1061.30 L453.60,1068.70 Z" fill="#F4A872"/>
<polyline points="142.20,1002.60 149.10,1012.20 156.60,1019.80 163.00,1026.20 170.50,1031.60 177.00,1040.10 184.10,1020.50 191.10,1034.00 198.10,1035.10 204.60,1026.90 211.80,1025.80 218.60,1036.30 225.70,1051.50 232.70,1050.30 239.70,1049.20 246.70,1050.90 253.80,1048.60 259.60,1060.90 264.30,1059.70 270.70,1059.10 277.20,1059.70 281.30,1056.20 288.30,1057.40 295.30,1060.30 302.00,1061.40 308.80,1060.00 315.70,1069.00 322.50,1055.30 329.70,1053.20 336.20,1049.70 343.60,1053.80 350.10,1053.20 357.30,1055.30 364.50,1059.40 371.70,1059.40 378.40,1058.70 385.40,1058.70 392.10,1058.30 398.90,1056.30 405.90,1057.30 412.60,1058.70 419.80,1055.90 427.00,1054.70 433.70,1053.80 440.70,1053.20 447.50,1051.20 453.60,1050.10" fill="none" stroke="#2A8A2A" stroke-width="1.2" stroke-linejoin="round" />
<path d="M142.20,998.40 L146.50,1006.00 L137.90,1006.00 Z" fill="#1E9020"/>
<path d="M149.10,1008.00 L153.40,1015.60 L144.80,1015.60 Z" fill="#1E9020"/>
<path d="M156.60,1015.60 L160.90,1023.20 L152.30,1023.20 Z" fill="#1E9020"/>
<path d="M163.00,1022.00 L167.30,1029.60 L158.70,1029.60 Z" fill="#1E9020"/>
<path d="M170.50,1027.40 L174.80,1035.00 L166.20,1035.00 Z" fill="#1E9020"/>
<path d="M177.00,1035.90 L181.30,1043.50 L172.70,1043.50 Z" fill="#1E9020"/>
<path d="M184.10,1016.30 L188.40,1023.90 L179.80,1023.90 Z" fill="#1E9020"/>
<path d="M191.10,1029.80 L195.40,1037.40 L186.80,1037.40 Z" fill="#1E9020"/>
<path d="M198.10,1030.90 L202.40,1038.50 L193.80,1038.50 Z" fill="#1E9020"/>
<path d="M204.60,1022.70 L208.90,1030.30 L200.30,1030.30 Z" fill="#1E9020"/>
<path d="M211.80,1021.60 L216.10,1029.20 L207.50,1029.20 Z" fill="#1E9020"/>
<path d="M218.60,1032.10 L222.90,1039.70 L214.30,1039.70 Z" fill="#1E9020"/>
<path d="M225.70,1047.30 L230.00,1054.90 L221.40,1054.90 Z" fill="#1E9020"/>
<path d="M232.70,1046.10 L237.00,1053.70 L228.40,1053.70 Z" fill="#1E9020"/>
<path d="M239.70,1045.00 L244.00,1052.60 L235.40,1052.60 Z" fill="#1E9020"/>
<path d="M246.70,1046.70 L251.00,1054.30 L242.40,1054.30 Z" fill="#1E9020"/>
<path d="M253.80,1044.40 L258.10,1052.00 L249.50,1052.00 Z" fill="#1E9020"/>
<path d="M259.60,1056.70 L263.90,1064.30 L255.30,1064.30 Z" fill="#1E9020"/>
<path d="M264.30,1055.50 L268.60,1063.10 L260.00,1063.10 Z" fill="#1E9020"/>
<path d="M270.70,1054.90 L275.00,1062.50 L266.40,1062.50 Z" fill="#1E9020"/>
<path d="M277.20,1055.50 L281.50,1063.10 L272.90,1063.10 Z" fill="#1E9020"/>
<path d="M281.30,1052.00 L285.60,1059.60 L277.00,1059.60 Z" fill="#1E9020"/>
<path d="M288.30,1053.20 L292.60,1060.80 L284.00,1060.80 Z" fill="#1E9020"/>
<path d="M295.30,1056.10 L299.60,1063.70 L291.00,1063.70 Z" fill="#1E9020"/>
<path d="M302.00,1057.20 L306.30,1064.80 L297.70,1064.80 Z" fill="#1E9020"/>
<path d="M308.80,1055.80 L313.10,1063.40 L304.50,1063.40 Z" fill="#1E9020"/>
<path d="M315.70,1064.80 L320.00,1072.40 L311.40,1072.40 Z" fill="#1E9020"/>
<path d="M322.50,1051.10 L326.80,1058.70 L318.20,1058.70 Z" fill="#1E9020"/>
<path d="M329.70,1049.00 L334.00,1056.60 L325.40,1056.60 Z" fill="#1E9020"/>
<path d="M336.20,1045.50 L340.50,1053.10 L331.90,1053.10 Z" fill="#1E9020"/>
<path d="M343.60,1049.60 L347.90,1057.20 L339.30,1057.20 Z" fill="#1E9020"/>
<path d="M350.10,1049.00 L354.40,1056.60 L345.80,1056.60 Z" fill="#1E9020"/>
<path d="M357.30,1051.10 L361.60,1058.70 L353.00,1058.70 Z" fill="#1E9020"/>
<path d="M364.50,1055.20 L368.80,1062.80 L360.20,1062.80 Z" fill="#1E9020"/>
<path d="M371.70,1055.20 L376.00,1062.80 L367.40,1062.80 Z" fill="#1E9020"/>
<path d="M378.40,1054.50 L382.70,1062.10 L374.10,1062.10 Z" fill="#1E9020"/>
<path d="M385.40,1054.50 L389.70,1062.10 L381.10,1062.10 Z" fill="#1E9020"/>
<path d="M392.10,1054.10 L396.40,1061.70 L387.80,1061.70 Z" fill="#1E9020"/>
<path d="M398.90,1052.10 L403.20,1059.70 L394.60,1059.70 Z" fill="#1E9020"/>
<path d="M405.90,1053.10 L410.20,1060.70 L401.60,1060.70 Z" fill="#1E9020"/>
<path d="M412.60,1054.50 L416.90,1062.10 L408.30,1062.10 Z" fill="#1E9020"/>
<path d="M419.80,1051.70 L424.10,1059.30 L415.50,1059.30 Z" fill="#1E9020"/>
<path d="M427.00,1050.50 L431.30,1058.10 L422.70,1058.10 Z" fill="#1E9020"/>
<path d="M433.70,1049.60 L438.00,1057.20 L429.40,1057.20 Z" fill="#1E9020"/>
<path d="M440.70,1049.00 L445.00,1056.60 L436.40,1056.60 Z" fill="#1E9020"/>
<path d="M447.50,1047.00 L451.80,1054.60 L443.20,1054.60 Z" fill="#1E9020"/>
<path d="M453.60,1045.90 L457.90,1053.50 L449.30,1053.50 Z" fill="#1E9020"/>
<polyline points="325.10,1040.30 330.10,993.80 335.40,958.00 340.30,933.00 345.00,917.00 350.10,907.80 355.30,905.30 360.40,908.80 365.50,915.00 370.60,925.20 376.40,937.10 381.50,950.20 386.60,963.40 391.50,976.20 396.90,986.80 401.80,996.20 407.10,1002.00 412.00,1004.70 417.30,1004.00 422.30,1000.00 427.60,993.80 432.50,993.20 437.80,992.40 442.70,987.70 448.10,981.50 453.00,974.80 457.00,968.00" fill="none" stroke="#2E52E6" stroke-width="1.3" stroke-linejoin="round" />
<rect x="321.90" y="1037.10" width="6.4" height="6.4" fill="#2E52E6"/>
<rect x="326.90" y="990.60" width="6.4" height="6.4" fill="#2E52E6"/>
<rect x="332.20" y="954.80" width="6.4" height="6.4" fill="#2E52E6"/>
<rect x="337.10" y="929.80" width="6.4" height="6.4" fill="#2E52E6"/>
<rect x="341.80" y="913.80" width="6.4" height="6.4" fill="#2E52E6"/>
<rect x="346.90" y="904.60" width="6.4" height="6.4" fill="#2E52E6"/>
<rect x="352.10" y="902.10" width="6.4" height="6.4" fill="#2E52E6"/>
<rect x="357.20" y="905.60" width="6.4" height="6.4" fill="#2E52E6"/>
<rect x="362.30" y="911.80" width="6.4" height="6.4" fill="#2E52E6"/>
<rect x="367.40" y="922.00" width="6.4" height="6.4" fill="#2E52E6"/>
<rect x="373.20" y="933.90" width="6.4" height="6.4" fill="#2E52E6"/>
<rect x="378.30" y="947.00" width="6.4" height="6.4" fill="#2E52E6"/>
<rect x="383.40" y="960.20" width="6.4" height="6.4" fill="#2E52E6"/>
<rect x="388.30" y="973.00" width="6.4" height="6.4" fill="#2E52E6"/>
<rect x="393.70" y="983.60" width="6.4" height="6.4" fill="#2E52E6"/>
<rect x="398.60" y="993.00" width="6.4" height="6.4" fill="#2E52E6"/>
<rect x="403.90" y="998.80" width="6.4" height="6.4" fill="#2E52E6"/>
<rect x="408.80" y="1001.50" width="6.4" height="6.4" fill="#2E52E6"/>
<rect x="414.10" y="1000.80" width="6.4" height="6.4" fill="#2E52E6"/>
<rect x="419.10" y="996.80" width="6.4" height="6.4" fill="#2E52E6"/>
<rect x="424.40" y="990.60" width="6.4" height="6.4" fill="#2E52E6"/>
<rect x="429.30" y="990.00" width="6.4" height="6.4" fill="#2E52E6"/>
<rect x="434.60" y="989.20" width="6.4" height="6.4" fill="#2E52E6"/>
<rect x="439.50" y="984.50" width="6.4" height="6.4" fill="#2E52E6"/>
<rect x="444.90" y="978.30" width="6.4" height="6.4" fill="#2E52E6"/>
<rect x="449.80" y="971.60" width="6.4" height="6.4" fill="#2E52E6"/>
<rect x="453.80" y="964.80" width="6.4" height="6.4" fill="#2E52E6"/>
<polyline points="383.00,1100.00 385.40,1024.10 388.70,947.80 392.80,892.40 395.20,856.00 398.90,835.10 401.80,826.90 405.90,830.00 409.60,840.20 412.60,856.60 416.10,877.10 419.40,898.60 422.50,920.10 426.00,940.60 429.00,957.60 432.50,970.30 435.80,975.40 439.30,970.30 442.30,959.60 446.40,951.90 450.10,948.20 453.00,939.60 455.00,930.30" fill="none" stroke="#8A2CC8" stroke-width="1.3" stroke-linejoin="round" />
<circle cx="385.40" cy="1024.10" r="3.3" fill="#8A2CC8"/>
<circle cx="388.70" cy="947.80" r="3.3" fill="#8A2CC8"/>
<circle cx="392.80" cy="892.40" r="3.3" fill="#8A2CC8"/>
<circle cx="395.20" cy="856.00" r="3.3" fill="#8A2CC8"/>
<circle cx="398.90" cy="835.10" r="3.3" fill="#8A2CC8"/>
<circle cx="401.80" cy="826.90" r="3.3" fill="#8A2CC8"/>
<circle cx="405.90" cy="830.00" r="3.3" fill="#8A2CC8"/>
<circle cx="409.60" cy="840.20" r="3.3" fill="#8A2CC8"/>
<circle cx="412.60" cy="856.60" r="3.3" fill="#8A2CC8"/>
<circle cx="416.10" cy="877.10" r="3.3" fill="#8A2CC8"/>
<circle cx="419.40" cy="898.60" r="3.3" fill="#8A2CC8"/>
<circle cx="422.50" cy="920.10" r="3.3" fill="#8A2CC8"/>
<circle cx="426.00" cy="940.60" r="3.3" fill="#8A2CC8"/>
<circle cx="429.00" cy="957.60" r="3.3" fill="#8A2CC8"/>
<circle cx="432.50" cy="970.30" r="3.3" fill="#8A2CC8"/>
<circle cx="435.80" cy="975.40" r="3.3" fill="#8A2CC8"/>
<circle cx="439.30" cy="970.30" r="3.3" fill="#8A2CC8"/>
<circle cx="442.30" cy="959.60" r="3.3" fill="#8A2CC8"/>
<circle cx="446.40" cy="951.90" r="3.3" fill="#8A2CC8"/>
<circle cx="450.10" cy="948.20" r="3.3" fill="#8A2CC8"/>
<circle cx="453.00" cy="939.60" r="3.3" fill="#8A2CC8"/>
<circle cx="455.00" cy="930.30" r="3.3" fill="#8A2CC8"/>
</g>
<line x1="545.30" y1="1097.50" x2="545.30" y2="1091.50" stroke="#222" stroke-width="1.3" />
<line x1="564.65" y1="1097.50" x2="564.65" y2="1093.50" stroke="#222" stroke-width="1.3" />
<line x1="584.00" y1="1097.50" x2="584.00" y2="1093.50" stroke="#222" stroke-width="1.3" />
<line x1="603.35" y1="1097.50" x2="603.35" y2="1093.50" stroke="#222" stroke-width="1.3" />
<line x1="622.70" y1="1097.50" x2="622.70" y2="1091.50" stroke="#222" stroke-width="1.3" />
<line x1="642.05" y1="1097.50" x2="642.05" y2="1093.50" stroke="#222" stroke-width="1.3" />
<line x1="661.40" y1="1097.50" x2="661.40" y2="1093.50" stroke="#222" stroke-width="1.3" />
<line x1="680.75" y1="1097.50" x2="680.75" y2="1093.50" stroke="#222" stroke-width="1.3" />
<line x1="700.10" y1="1097.50" x2="700.10" y2="1091.50" stroke="#222" stroke-width="1.3" />
<line x1="719.45" y1="1097.50" x2="719.45" y2="1093.50" stroke="#222" stroke-width="1.3" />
<line x1="738.80" y1="1097.50" x2="738.80" y2="1093.50" stroke="#222" stroke-width="1.3" />
<line x1="758.15" y1="1097.50" x2="758.15" y2="1093.50" stroke="#222" stroke-width="1.3" />
<line x1="777.50" y1="1097.50" x2="777.50" y2="1091.50" stroke="#222" stroke-width="1.3" />
<line x1="796.85" y1="1097.50" x2="796.85" y2="1093.50" stroke="#222" stroke-width="1.3" />
<line x1="816.20" y1="1097.50" x2="816.20" y2="1093.50" stroke="#222" stroke-width="1.3" />
<line x1="835.55" y1="1097.50" x2="835.55" y2="1093.50" stroke="#222" stroke-width="1.3" />
<line x1="854.90" y1="1097.50" x2="854.90" y2="1091.50" stroke="#222" stroke-width="1.3" />
<line x1="874.25" y1="1097.50" x2="874.25" y2="1093.50" stroke="#222" stroke-width="1.3" />
<line x1="893.60" y1="1097.50" x2="893.60" y2="1093.50" stroke="#222" stroke-width="1.3" />
<line x1="912.95" y1="1097.50" x2="912.95" y2="1093.50" stroke="#222" stroke-width="1.3" />
<line x1="932.30" y1="1097.50" x2="932.30" y2="1091.50" stroke="#222" stroke-width="1.3" />
<line x1="545.30" y1="795.60" x2="545.30" y2="801.60" stroke="#222" stroke-width="1.3" />
<line x1="562.17" y1="795.60" x2="562.17" y2="799.60" stroke="#222" stroke-width="1.3" />
<line x1="579.05" y1="795.60" x2="579.05" y2="799.60" stroke="#222" stroke-width="1.3" />
<line x1="595.92" y1="795.60" x2="595.92" y2="799.60" stroke="#222" stroke-width="1.3" />
<line x1="612.80" y1="795.60" x2="612.80" y2="801.60" stroke="#222" stroke-width="1.3" />
<line x1="629.67" y1="795.60" x2="629.67" y2="799.60" stroke="#222" stroke-width="1.3" />
<line x1="646.55" y1="795.60" x2="646.55" y2="799.60" stroke="#222" stroke-width="1.3" />
<line x1="663.42" y1="795.60" x2="663.42" y2="799.60" stroke="#222" stroke-width="1.3" />
<line x1="680.30" y1="795.60" x2="680.30" y2="801.60" stroke="#222" stroke-width="1.3" />
<line x1="697.17" y1="795.60" x2="697.17" y2="799.60" stroke="#222" stroke-width="1.3" />
<line x1="714.05" y1="795.60" x2="714.05" y2="799.60" stroke="#222" stroke-width="1.3" />
<line x1="730.92" y1="795.60" x2="730.92" y2="799.60" stroke="#222" stroke-width="1.3" />
<line x1="747.80" y1="795.60" x2="747.80" y2="801.60" stroke="#222" stroke-width="1.3" />
<line x1="764.67" y1="795.60" x2="764.67" y2="799.60" stroke="#222" stroke-width="1.3" />
<line x1="781.55" y1="795.60" x2="781.55" y2="799.60" stroke="#222" stroke-width="1.3" />
<line x1="798.42" y1="795.60" x2="798.42" y2="799.60" stroke="#222" stroke-width="1.3" />
<line x1="815.30" y1="795.60" x2="815.30" y2="801.60" stroke="#222" stroke-width="1.3" />
<line x1="832.17" y1="795.60" x2="832.17" y2="799.60" stroke="#222" stroke-width="1.3" />
<line x1="849.05" y1="795.60" x2="849.05" y2="799.60" stroke="#222" stroke-width="1.3" />
<line x1="865.92" y1="795.60" x2="865.92" y2="799.60" stroke="#222" stroke-width="1.3" />
<line x1="882.80" y1="795.60" x2="882.80" y2="801.60" stroke="#222" stroke-width="1.3" />
<line x1="899.67" y1="795.60" x2="899.67" y2="799.60" stroke="#222" stroke-width="1.3" />
<line x1="916.55" y1="795.60" x2="916.55" y2="799.60" stroke="#222" stroke-width="1.3" />
<line x1="545.30" y1="1097.40" x2="551.30" y2="1097.40" stroke="#222" stroke-width="1.3" />
<line x1="932.30" y1="1097.40" x2="926.30" y2="1097.40" stroke="#222" stroke-width="1.3" />
<line x1="545.30" y1="1035.78" x2="549.30" y2="1035.78" stroke="#222" stroke-width="1.3" />
<line x1="932.30" y1="1035.78" x2="928.30" y2="1035.78" stroke="#222" stroke-width="1.3" />
<line x1="545.30" y1="999.73" x2="549.30" y2="999.73" stroke="#222" stroke-width="1.3" />
<line x1="932.30" y1="999.73" x2="928.30" y2="999.73" stroke="#222" stroke-width="1.3" />
<line x1="545.30" y1="974.16" x2="549.30" y2="974.16" stroke="#222" stroke-width="1.3" />
<line x1="932.30" y1="974.16" x2="928.30" y2="974.16" stroke="#222" stroke-width="1.3" />
<line x1="545.30" y1="954.32" x2="549.30" y2="954.32" stroke="#222" stroke-width="1.3" />
<line x1="932.30" y1="954.32" x2="928.30" y2="954.32" stroke="#222" stroke-width="1.3" />
<line x1="545.30" y1="938.11" x2="549.30" y2="938.11" stroke="#222" stroke-width="1.3" />
<line x1="932.30" y1="938.11" x2="928.30" y2="938.11" stroke="#222" stroke-width="1.3" />
<line x1="545.30" y1="924.41" x2="549.30" y2="924.41" stroke="#222" stroke-width="1.3" />
<line x1="932.30" y1="924.41" x2="928.30" y2="924.41" stroke="#222" stroke-width="1.3" />
<line x1="545.30" y1="912.54" x2="549.30" y2="912.54" stroke="#222" stroke-width="1.3" />
<line x1="932.30" y1="912.54" x2="928.30" y2="912.54" stroke="#222" stroke-width="1.3" />
<line x1="545.30" y1="902.07" x2="549.30" y2="902.07" stroke="#222" stroke-width="1.3" />
<line x1="932.30" y1="902.07" x2="928.30" y2="902.07" stroke="#222" stroke-width="1.3" />
<line x1="545.30" y1="892.70" x2="551.30" y2="892.70" stroke="#222" stroke-width="1.3" />
<line x1="932.30" y1="892.70" x2="926.30" y2="892.70" stroke="#222" stroke-width="1.3" />
<line x1="545.30" y1="831.08" x2="549.30" y2="831.08" stroke="#222" stroke-width="1.3" />
<line x1="932.30" y1="831.08" x2="928.30" y2="831.08" stroke="#222" stroke-width="1.3" />
<rect x="545.3" y="795.6" width="387.0" height="301.9" fill="none" stroke="#333" stroke-width="1.5"/>
<text x="541.00" y="1104.00" font-family="Liberation Sans" font-size="20.5" font-weight="bold" fill="#000" text-anchor="end" >0.1</text>
<text x="540.00" y="900.60" font-family="Liberation Sans" font-size="20.5" font-weight="bold" fill="#000" text-anchor="end" >1</text>
<text x="937.50" y="1104.30" font-family="Liberation Sans" font-size="20.5" font-weight="bold" fill="#000" text-anchor="start" >0.1</text>
<text x="937.50" y="900.00" font-family="Liberation Sans" font-size="20.5" font-weight="bold" fill="#000" text-anchor="start" >1</text>
<text x="545.30" y="1123.00" font-family="Liberation Sans" font-size="21.3" font-weight="bold" fill="#000" text-anchor="middle" >3.2</text>
<text x="622.70" y="1123.00" font-family="Liberation Sans" font-size="21.3" font-weight="bold" fill="#000" text-anchor="middle" >3.4</text>
<text x="700.10" y="1123.00" font-family="Liberation Sans" font-size="21.3" font-weight="bold" fill="#000" text-anchor="middle" >3.6</text>
<text x="777.50" y="1123.00" font-family="Liberation Sans" font-size="21.3" font-weight="bold" fill="#000" text-anchor="middle" >3.8</text>
<text x="854.90" y="1123.00" font-family="Liberation Sans" font-size="21.3" font-weight="bold" fill="#000" text-anchor="middle" >4</text>
<text x="932.30" y="1123.00" font-family="Liberation Sans" font-size="21.3" font-weight="bold" fill="#000" text-anchor="middle" >4.2</text>
<text x="641.10" y="1153.00" font-family="Liberation Sans" font-size="26" font-weight="bold" fill="#000" text-anchor="start" >Temperature (K)</text>
<text x="553.30" y="844.40" font-family="Liberation Sans" font-size="47" font-weight="normal" fill="#000" text-anchor="start" >(c)</text>
<text x="708.4" y="899" font-family="Liberation Sans" font-size="25">H<tspan font-size="16.5" dy="5.5">sl</tspan><tspan dy="-5.5"> = 6 mT</tspan></text>
<text transform="translate(506,1020.4) rotate(-90)" x="0" y="0" font-family="Liberation Sans" font-size="26" font-weight="bold">a<tspan font-size="17" dy="4">0</tspan><tspan dy="-4">(H</tspan><tspan font-size="17" dy="4">sl</tspan><tspan dy="-4">) (µm)</tspan></text>
<text transform="translate(973.5,894) rotate(90)" x="0" y="0" font-family="Liberation Sans" font-size="26.8" font-weight="bold">λ<tspan font-size="17.5" dy="2.8">BCS</tspan><tspan dy="-2.8"> (µm)</tspan></text>
<g clip-path="url(#cc)">
<polyline points="537.56,1020.16 543.05,1019.72 548.48,1019.28 553.86,1018.84 559.18,1018.39 564.45,1017.93 569.66,1017.46 574.82,1017.00 579.93,1016.52 584.99,1016.04 589.99,1015.55 594.94,1015.06 599.84,1014.56 604.69,1014.06 609.48,1013.54 614.22,1013.03 618.92,1012.50 623.56,1011.98 628.15,1011.44 632.69,1010.90 637.18,1010.35 641.62,1009.80 646.02,1009.24 650.36,1008.67 654.65,1008.10 658.90,1007.52 663.10,1006.93 667.25,1006.34 671.35,1005.74 675.40,1005.14 679.41,1004.53 683.37,1003.91 687.29,1003.28 691.15,1002.65 694.98,1002.01 698.75,1001.37 702.48,1000.71 706.17,1000.05 709.81,999.39 713.40,998.71 716.95,998.03 720.46,997.35 723.92,996.65 727.34,995.95 730.72,995.24 734.05,994.53 737.34,993.80 740.59,993.07 743.80,992.33 746.96,991.59 750.09,990.83 753.17,990.07 756.21,989.30 759.21,988.52 762.16,987.74 765.08,986.95 767.96,986.15 770.80,985.34 773.60,984.52 776.36,983.69 779.08,982.86 781.76,982.02 784.41,981.17 787.01,980.31 789.58,979.44 792.11,978.56 794.61,977.68 797.06,976.78 799.48,975.88 801.87,974.96 804.22,974.04 806.53,973.11 808.80,972.17 811.05,971.22 813.25,970.25 815.42,969.28 817.56,968.30 819.66,967.31 821.73,966.31 823.77,965.30 825.77,964.28 827.74,963.25 829.67,962.20 831.57,961.15 833.45,960.08 835.28,959.01 837.09,957.92 838.87,956.82 840.61,955.71 842.33,954.58 844.01,953.45 845.66,952.30 847.29,951.14 848.88,949.97 850.44,948.78 851.98,947.58 853.48,946.37 854.96,945.14 856.41,943.91 857.83,942.65 859.22,941.39 860.58,940.10 861.92,938.81 863.23,937.50 864.52,936.17 865.77,934.83 867.00,933.47 868.21,932.09 869.39,930.70 870.54,929.30 871.67,927.87 872.78,926.43 873.86,924.97 874.91,923.49 875.94,921.99 876.95,920.48 877.94,918.94 878.90,917.39 879.84,915.82 880.75,914.22 881.64,912.60 882.52,910.97 883.36,909.30 884.19,907.62 885.00,905.92 885.79,904.19 886.55,902.43 887.30,900.65 888.02,898.85 888.72,897.02 889.41,895.16 890.08,893.27 890.72,891.36 891.35,889.41 891.96,887.44 892.55,885.43 893.13,883.40 893.68,881.33 894.22,879.22 894.74,877.08 895.25,874.91 895.73,872.70 896.21,870.45 896.66,868.16 897.10,865.83 897.53,863.45 897.94,861.04 898.33,858.57 898.71,856.06 899.08,853.51 899.43,850.90 899.77,848.24 900.09,845.52 900.40,842.75 900.70,839.92 900.98,837.02 901.26,834.07 901.52,831.04 901.77,827.95 902.00,824.78 902.23,821.54 902.45,818.22 902.65,814.81 902.84,811.32 903.03,807.74 903.20,804.06 903.37,800.28 903.52,796.39 903.67,792.39 903.80,788.27 903.93,784.03 904.05,779.66 904.16,775.15 904.27,770.49 904.36,765.68 904.45,760.71 904.54,755.57 904.61,750.24 904.68,744.72 904.75,739.01 904.80,733.08 904.86,726.95 904.90,720.59 904.95,714.00 904.98,707.20 905.02,700.18 905.05,692.98 905.07,685.63 905.09,678.18 905.11,670.72 905.13,663.37 905.14,656.30 905.15,649.70 905.16,643.77 905.16,638.73 905.17,634.74 905.17,631.84 905.17,629.99 905.17,629.01 905.17,628.64 905.17,628.58" fill="none" stroke="#1B4DB8" stroke-width="4" stroke-linejoin="round" />
<polyline points="540.00,1063.60 583.80,1058.60 735.00,1027.80 823.60,987.00 855.10,956.50 866.70,943.90 875.10,934.00 871.80,924.60 865.00,902.80 861.90,884.60 860.90,872.00 858.50,854.00 856.00,823.60 848.80,795.50 846.00,786.00" fill="none" stroke="#F08A28" stroke-width="2.6" stroke-linejoin="round" />
<circle cx="583.8" cy="1058.6" r="6.1" fill="#F58A1E"/>
<circle cx="735" cy="1027.8" r="6.1" fill="#F58A1E"/>
<circle cx="823.6" cy="987" r="6.1" fill="#F58A1E"/>
<circle cx="855.1" cy="956.5" r="6.1" fill="#F58A1E"/>
<circle cx="866.7" cy="943.9" r="6.1" fill="#F58A1E"/>
<circle cx="875.1" cy="934" r="6.1" fill="#F58A1E"/>
<circle cx="871.8" cy="924.6" r="6.1" fill="#F58A1E"/>
<circle cx="865" cy="902.8" r="6.1" fill="#F58A1E"/>
<circle cx="861.9" cy="884.6" r="6.1" fill="#F58A1E"/>
<circle cx="860.9" cy="872" r="6.1" fill="#F58A1E"/>
<circle cx="858.5" cy="854" r="6.1" fill="#F58A1E"/>
<circle cx="856" cy="823.6" r="6.1" fill="#F58A1E"/>
</g>
<line x1="799.80" y1="914.40" x2="846.81" y2="927.35" stroke="#000" stroke-width="4.2" />
<path d="M857.90,930.40 L844.12,933.35 L847.57,920.81 Z" fill="#000"/>
<line x1="651.00" y1="1029.50" x2="606.20" y2="1029.50" stroke="#E8802A" stroke-width="5" />
<path d="M594.70,1029.50 L607.20,1023.00 L607.20,1036.00 Z" fill="#E8802A"/>
<line x1="894.60" y1="885.60" x2="908.50" y2="885.60" stroke="#3A66B0" stroke-width="4.5" />
<path d="M920.00,885.60 L907.50,892.10 L907.50,879.10 Z" fill="#3A66B0"/>
</svg></body></html>
